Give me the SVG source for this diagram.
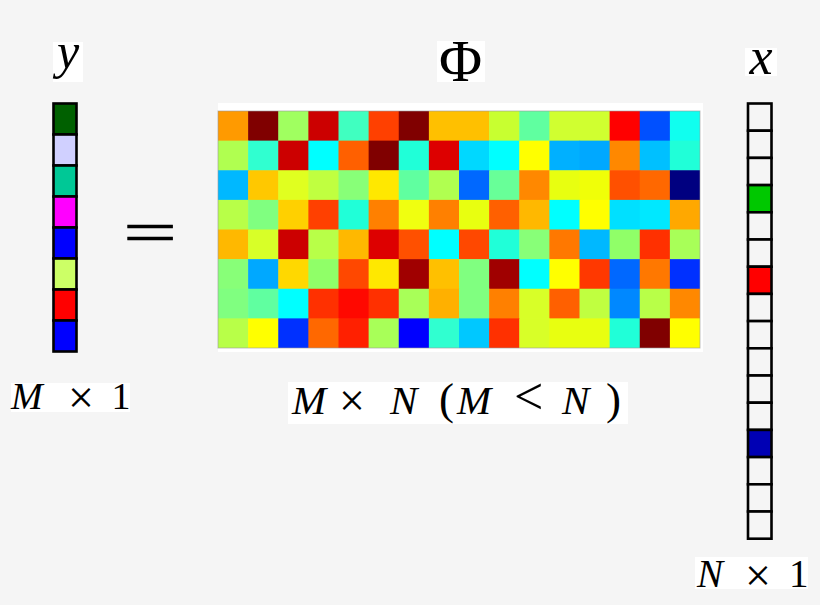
<svg xmlns="http://www.w3.org/2000/svg" width="820" height="605" viewBox="0 0 820 605">
<style>
.bg{fill:#ffffff}
.math{font-family:"Liberation Serif","Times New Roman",serif;fill:#000}
.it{font-style:italic}
.op{font-size:46px}
.vc{stroke:#000;stroke-width:2.6}
.xe{fill:#f5f5f5}
</style>
<rect width="820" height="605" fill="#f5f5f5"/>

<g id="y-label">
<rect class="bg" x="53" y="42" width="30" height="40"/>
<text class="math it" x="68" y="68" font-size="50" text-anchor="middle">y</text>
</g>

<g id="y-vector">
<rect class="vc" x="53.5" y="103.5" width="23" height="31" fill="#006000"/>
<rect class="vc" x="53.5" y="134.5" width="23" height="31" fill="#d0d0ff"/>
<rect class="vc" x="53.5" y="165.5" width="23" height="31" fill="#00c896"/>
<rect class="vc" x="53.5" y="196.5" width="23" height="31" fill="#ff00ff"/>
<rect class="vc" x="53.5" y="227.5" width="23" height="31" fill="#0000ff"/>
<rect class="vc" x="53.5" y="258.5" width="23" height="31" fill="#ccff66"/>
<rect class="vc" x="53.5" y="289.5" width="23" height="31" fill="#ff0000"/>
<rect class="vc" x="53.5" y="320.5" width="23" height="31" fill="#0000ff"/>
</g>

<g id="y-dim">
<rect class="bg" x="11" y="383" width="119" height="29"/>
<text class="math" y="409" font-size="38"><tspan class="it" x="11">M</tspan><tspan class="op" x="68" y="413">×</tspan><tspan x="111.5" y="409">1</tspan></text>
</g>

<g id="equals">
<text class="math" transform="translate(150,233) scale(1.2,0.75)" x="0" y="25" font-size="80" text-anchor="middle" stroke="#000" stroke-width="0.7">=</text>
</g>

<g id="phi-label">
<rect class="bg" x="437" y="41" width="48" height="41"/>
<text class="math" x="460.5" y="81" font-size="59" text-anchor="middle">Φ</text>
</g>

<g id="phi-matrix">
<rect class="bg" x="218" y="103" width="485" height="249"/>
<g transform="translate(218,111) scale(30.125,29.625)">
<rect x="0" y="0" width="1.02" height="1.02" fill="#ff9a00"/><rect x="1" y="0" width="1.02" height="1.02" fill="#800000"/><rect x="2" y="0" width="1.02" height="1.02" fill="#a0ff60"/><rect x="3" y="0" width="1.02" height="1.02" fill="#cc0000"/><rect x="4" y="0" width="1.02" height="1.02" fill="#40ffc0"/><rect x="5" y="0" width="1.02" height="1.02" fill="#ff4000"/><rect x="6" y="0" width="1.02" height="1.02" fill="#800000"/><rect x="7" y="0" width="1.02" height="1.02" fill="#ffc000"/><rect x="8" y="0" width="1.02" height="1.02" fill="#ffc000"/><rect x="9" y="0" width="1.02" height="1.02" fill="#c8ff30"/><rect x="10" y="0" width="1.02" height="1.02" fill="#60ffa0"/><rect x="11" y="0" width="1.02" height="1.02" fill="#d0ff30"/><rect x="12" y="0" width="1.02" height="1.02" fill="#d0ff30"/><rect x="13" y="0" width="1.02" height="1.02" fill="#ff0000"/><rect x="14" y="0" width="1.02" height="1.02" fill="#0050ff"/><rect x="15" y="0" width="1" height="1.02" fill="#10ffef"/>
<rect x="0" y="1" width="1.02" height="1.02" fill="#b0ff50"/><rect x="1" y="1" width="1.02" height="1.02" fill="#30ffd0"/><rect x="2" y="1" width="1.02" height="1.02" fill="#cc0000"/><rect x="3" y="1" width="1.02" height="1.02" fill="#00ffff"/><rect x="4" y="1" width="1.02" height="1.02" fill="#ff6000"/><rect x="5" y="1" width="1.02" height="1.02" fill="#800000"/><rect x="6" y="1" width="1.02" height="1.02" fill="#20ffd8"/><rect x="7" y="1" width="1.02" height="1.02" fill="#dd0000"/><rect x="8" y="1" width="1.02" height="1.02" fill="#00d8ff"/><rect x="9" y="1" width="1.02" height="1.02" fill="#00ffff"/><rect x="10" y="1" width="1.02" height="1.02" fill="#ffff00"/><rect x="11" y="1" width="1.02" height="1.02" fill="#00b0ff"/><rect x="12" y="1" width="1.02" height="1.02" fill="#00a8ff"/><rect x="13" y="1" width="1.02" height="1.02" fill="#ff8800"/><rect x="14" y="1" width="1.02" height="1.02" fill="#00c0ff"/><rect x="15" y="1" width="1" height="1.02" fill="#20ffd8"/>
<rect x="0" y="2" width="1.02" height="1.02" fill="#00b8ff"/><rect x="1" y="2" width="1.02" height="1.02" fill="#ffc800"/><rect x="2" y="2" width="1.02" height="1.02" fill="#e0ff20"/><rect x="3" y="2" width="1.02" height="1.02" fill="#c0ff40"/><rect x="4" y="2" width="1.02" height="1.02" fill="#88ff78"/><rect x="5" y="2" width="1.02" height="1.02" fill="#ffe800"/><rect x="6" y="2" width="1.02" height="1.02" fill="#60ffa0"/><rect x="7" y="2" width="1.02" height="1.02" fill="#b0ff50"/><rect x="8" y="2" width="1.02" height="1.02" fill="#0068ff"/><rect x="9" y="2" width="1.02" height="1.02" fill="#68ff98"/><rect x="10" y="2" width="1.02" height="1.02" fill="#ff8800"/><rect x="11" y="2" width="1.02" height="1.02" fill="#e8ff10"/><rect x="12" y="2" width="1.02" height="1.02" fill="#f0ff08"/><rect x="13" y="2" width="1.02" height="1.02" fill="#ff5000"/><rect x="14" y="2" width="1.02" height="1.02" fill="#ff6800"/><rect x="15" y="2" width="1" height="1.02" fill="#000080"/>
<rect x="0" y="3" width="1.02" height="1.02" fill="#b8ff48"/><rect x="1" y="3" width="1.02" height="1.02" fill="#80ff80"/><rect x="2" y="3" width="1.02" height="1.02" fill="#ffd000"/><rect x="3" y="3" width="1.02" height="1.02" fill="#ff4000"/><rect x="4" y="3" width="1.02" height="1.02" fill="#20ffd8"/><rect x="5" y="3" width="1.02" height="1.02" fill="#ff8000"/><rect x="6" y="3" width="1.02" height="1.02" fill="#f0ff10"/><rect x="7" y="3" width="1.02" height="1.02" fill="#ff8000"/><rect x="8" y="3" width="1.02" height="1.02" fill="#e8ff10"/><rect x="9" y="3" width="1.02" height="1.02" fill="#ff6000"/><rect x="10" y="3" width="1.02" height="1.02" fill="#ffb800"/><rect x="11" y="3" width="1.02" height="1.02" fill="#00ffff"/><rect x="12" y="3" width="1.02" height="1.02" fill="#ffff00"/><rect x="13" y="3" width="1.02" height="1.02" fill="#00e0ff"/><rect x="14" y="3" width="1.02" height="1.02" fill="#00e8ff"/><rect x="15" y="3" width="1" height="1.02" fill="#ffa800"/>
<rect x="0" y="4" width="1.02" height="1.02" fill="#ffb800"/><rect x="1" y="4" width="1.02" height="1.02" fill="#d8ff28"/><rect x="2" y="4" width="1.02" height="1.02" fill="#cc0000"/><rect x="3" y="4" width="1.02" height="1.02" fill="#b8ff48"/><rect x="4" y="4" width="1.02" height="1.02" fill="#ffb800"/><rect x="5" y="4" width="1.02" height="1.02" fill="#dd0000"/><rect x="6" y="4" width="1.02" height="1.02" fill="#ff5000"/><rect x="7" y="4" width="1.02" height="1.02" fill="#00ffff"/><rect x="8" y="4" width="1.02" height="1.02" fill="#ff4800"/><rect x="9" y="4" width="1.02" height="1.02" fill="#20ffd8"/><rect x="10" y="4" width="1.02" height="1.02" fill="#88ff78"/><rect x="11" y="4" width="1.02" height="1.02" fill="#ff7800"/><rect x="12" y="4" width="1.02" height="1.02" fill="#00b8ff"/><rect x="13" y="4" width="1.02" height="1.02" fill="#90ff68"/><rect x="14" y="4" width="1.02" height="1.02" fill="#ff3000"/><rect x="15" y="4" width="1" height="1.02" fill="#a8ff58"/>
<rect x="0" y="5" width="1.02" height="1.02" fill="#88ff78"/><rect x="1" y="5" width="1.02" height="1.02" fill="#00a8ff"/><rect x="2" y="5" width="1.02" height="1.02" fill="#ffd800"/><rect x="3" y="5" width="1.02" height="1.02" fill="#90ff68"/><rect x="4" y="5" width="1.02" height="1.02" fill="#ff4800"/><rect x="5" y="5" width="1.02" height="1.02" fill="#ffe800"/><rect x="6" y="5" width="1.02" height="1.02" fill="#a00000"/><rect x="7" y="5" width="1.02" height="1.02" fill="#ffc000"/><rect x="8" y="5" width="1.02" height="1.02" fill="#80ff80"/><rect x="9" y="5" width="1.02" height="1.02" fill="#a00000"/><rect x="10" y="5" width="1.02" height="1.02" fill="#00ffff"/><rect x="11" y="5" width="1.02" height="1.02" fill="#ffff00"/><rect x="12" y="5" width="1.02" height="1.02" fill="#ff3800"/><rect x="13" y="5" width="1.02" height="1.02" fill="#0068ff"/><rect x="14" y="5" width="1.02" height="1.02" fill="#ff7800"/><rect x="15" y="5" width="1" height="1.02" fill="#0030ff"/>
<rect x="0" y="6" width="1.02" height="1.02" fill="#80ff80"/><rect x="1" y="6" width="1.02" height="1.02" fill="#60ffa0"/><rect x="2" y="6" width="1.02" height="1.02" fill="#00ffff"/><rect x="3" y="6" width="1.02" height="1.02" fill="#ff3000"/><rect x="4" y="6" width="1.02" height="1.02" fill="#ff0800"/><rect x="5" y="6" width="1.02" height="1.02" fill="#ff3000"/><rect x="6" y="6" width="1.02" height="1.02" fill="#a8ff58"/><rect x="7" y="6" width="1.02" height="1.02" fill="#ffb000"/><rect x="8" y="6" width="1.02" height="1.02" fill="#80ff80"/><rect x="9" y="6" width="1.02" height="1.02" fill="#ff8000"/><rect x="10" y="6" width="1.02" height="1.02" fill="#d8ff28"/><rect x="11" y="6" width="1.02" height="1.02" fill="#ff6000"/><rect x="12" y="6" width="1.02" height="1.02" fill="#c0ff40"/><rect x="13" y="6" width="1.02" height="1.02" fill="#0088ff"/><rect x="14" y="6" width="1.02" height="1.02" fill="#b8ff48"/><rect x="15" y="6" width="1" height="1.02" fill="#ff8800"/>
<rect x="0" y="7" width="1.02" height="1" fill="#b8ff48"/><rect x="1" y="7" width="1.02" height="1" fill="#ffff00"/><rect x="2" y="7" width="1.02" height="1" fill="#0030ff"/><rect x="3" y="7" width="1.02" height="1" fill="#ff6800"/><rect x="4" y="7" width="1.02" height="1" fill="#ff2000"/><rect x="5" y="7" width="1.02" height="1" fill="#a8ff58"/><rect x="6" y="7" width="1.02" height="1" fill="#0000ff"/><rect x="7" y="7" width="1.02" height="1" fill="#30ffd0"/><rect x="8" y="7" width="1.02" height="1" fill="#00c8ff"/><rect x="9" y="7" width="1.02" height="1" fill="#ff3000"/><rect x="10" y="7" width="1.02" height="1" fill="#d8ff28"/><rect x="11" y="7" width="1.02" height="1" fill="#e8ff10"/><rect x="12" y="7" width="1.02" height="1" fill="#e8ff10"/><rect x="13" y="7" width="1.02" height="1" fill="#20ffd8"/><rect x="14" y="7" width="1.02" height="1" fill="#800000"/><rect x="15" y="7" width="1" height="1" fill="#ffff00"/>
</g>
<rect x="218" y="111" width="482" height="237" fill="none" stroke="#9a9a9a" stroke-opacity="0.6" stroke-width="1"/>
</g>

<g id="phi-dim">
<rect class="bg" x="288" y="382" width="340" height="42"/>
<text class="math" y="414" font-size="41"><tspan class="it" x="292">M</tspan><tspan class="op" x="339" y="416">×</tspan><tspan class="it" x="390" y="414">N</tspan><tspan x="439" font-size="45">(</tspan><tspan class="it" x="457">M</tspan><tspan x="514" font-size="52">&lt;</tspan><tspan class="it" x="562">N</tspan><tspan x="606" font-size="45">)</tspan></text>
</g>

<g id="x-label">
<rect class="bg" x="745" y="48" width="32" height="28"/>
<text class="math it" x="761" y="74" font-size="52" text-anchor="middle">x</text>
</g>

<g id="x-vector">
<rect class="vc xe" x="748" y="103.5" width="23.5" height="27.2"/>
<rect class="vc xe" x="748" y="130.7" width="23.5" height="27.2"/>
<rect class="vc xe" x="748" y="157.9" width="23.5" height="27.2"/>
<rect class="vc" x="748" y="185.1" width="23.5" height="27.2" fill="#00c800"/>
<rect class="vc xe" x="748" y="212.3" width="23.5" height="27.2"/>
<rect class="vc xe" x="748" y="239.5" width="23.5" height="27.2"/>
<rect class="vc" x="748" y="266.7" width="23.5" height="27.2" fill="#ff0000"/>
<rect class="vc xe" x="748" y="293.9" width="23.5" height="27.2"/>
<rect class="vc xe" x="748" y="321.1" width="23.5" height="27.2"/>
<rect class="vc xe" x="748" y="348.3" width="23.5" height="27.2"/>
<rect class="vc xe" x="748" y="375.5" width="23.5" height="27.2"/>
<rect class="vc xe" x="748" y="402.7" width="23.5" height="27.2"/>
<rect class="vc" x="748" y="429.9" width="23.5" height="27.2" fill="#0000b4"/>
<rect class="vc xe" x="748" y="457.1" width="23.5" height="27.2"/>
<rect class="vc xe" x="748" y="484.3" width="23.5" height="27.2"/>
<rect class="vc xe" x="748" y="511.5" width="23.5" height="27.2"/>
</g>

<g id="x-dim">
<rect class="bg" x="695" y="557" width="113" height="32"/>
<text class="math" y="587" font-size="39"><tspan class="it" x="697">N</tspan><tspan class="op" x="745" y="591">×</tspan><tspan x="789" y="587">1</tspan></text>
</g>
</svg>
